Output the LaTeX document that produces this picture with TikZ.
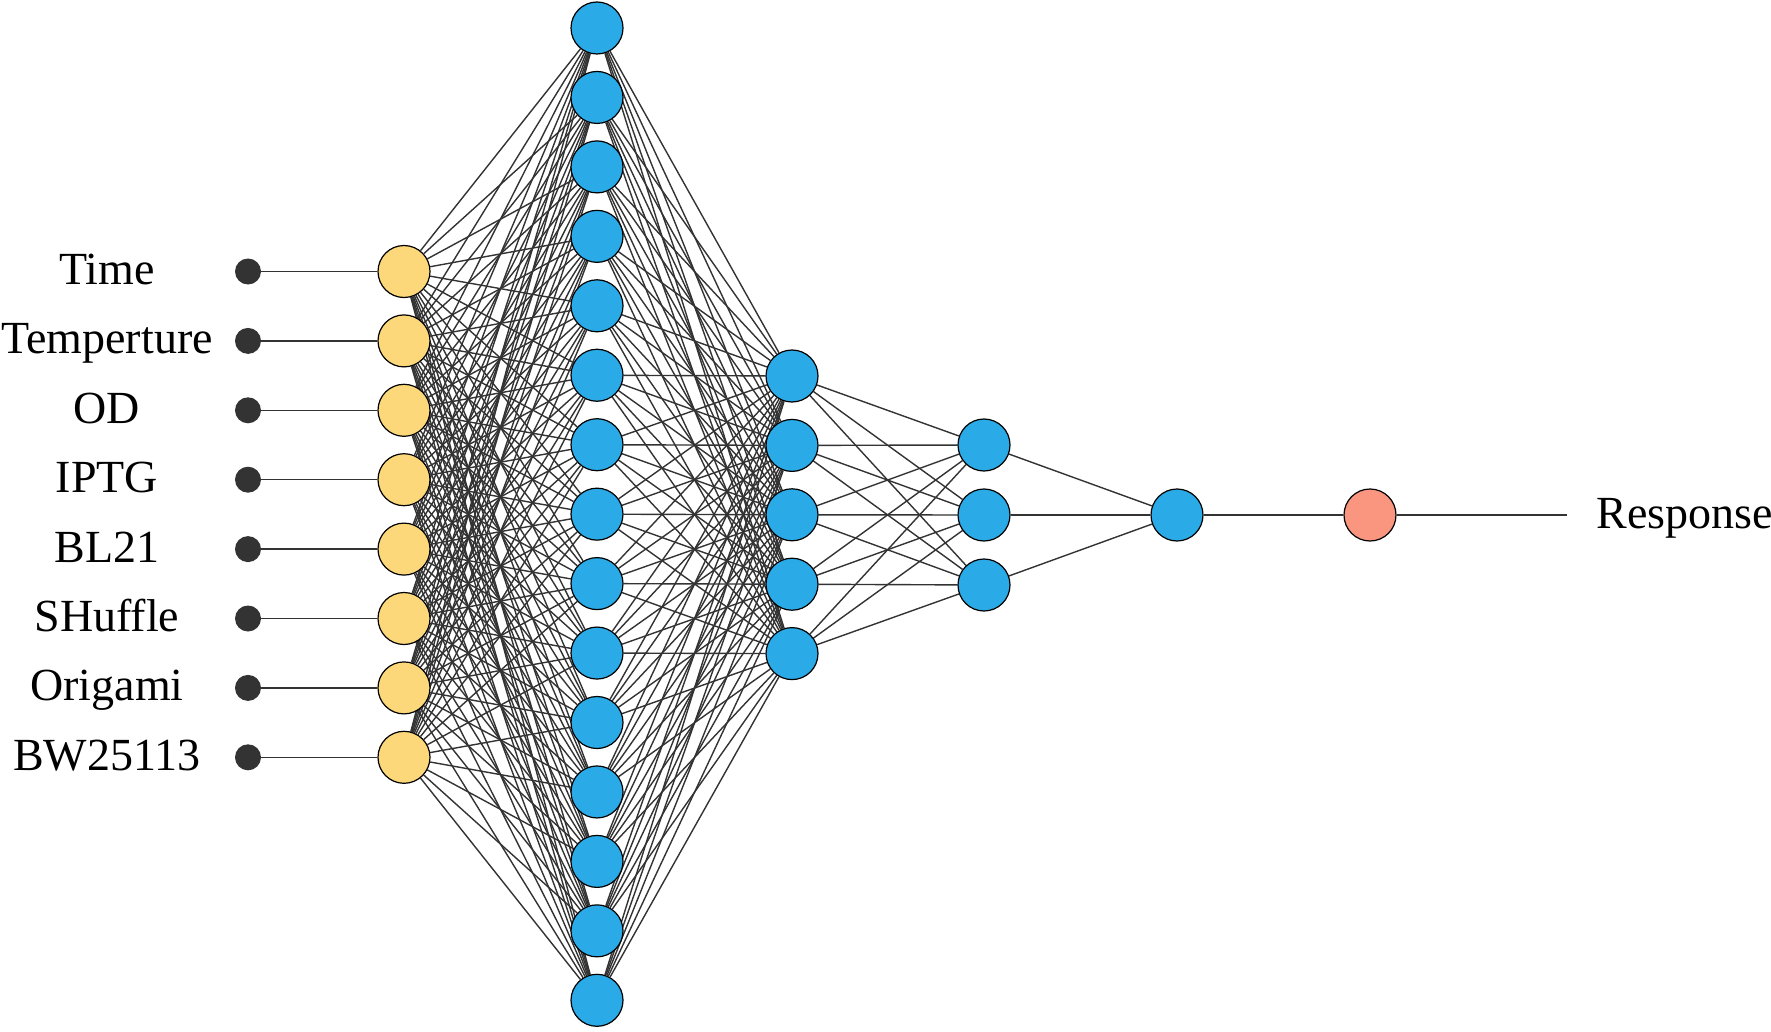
\documentclass[tikz,border=0pt]{standalone}
\usepackage{fontspec}
\setmainfont{Liberation Serif}
\usetikzlibrary{backgrounds}
\definecolor{inyel}{RGB}{252,216,122}
\definecolor{hidblue}{RGB}{42,170,230}
\definecolor{outred}{RGB}{250,150,128}
\definecolor{dotgray}{RGB}{51,51,51}
\begin{document}
\begin{tikzpicture}[x=0.5pt,y=-0.5pt,
  neuron/.style={circle,draw=black,line width=0.6pt,minimum size=26pt,inner sep=0pt},
  yel/.style={neuron,fill=inyel},
  blu/.style={neuron,fill=hidblue},
  red/.style={neuron,fill=outred},
  indot/.style={circle,fill=dotgray,minimum size=13pt,inner sep=0pt},
  lbl/.style={font=\fontsize{23pt}{27pt}\selectfont,inner sep=0pt},
  conn/.style={draw=dotgray,line width=0.7pt}]
\useasboundingbox (0,0) rectangle (1771,1032);
% input layer
\foreach \t [count=\i from 0] in {Time,Temperture,OD,IPTG,BL21,SHuffle,Origami,BW25113}{
  \pgfmathsetmacro{\yy}{271.5+69.4*\i}
  \node[indot] (d\i) at (248,\yy) {};
  \node[yel] (a\i) at (404,\yy) {};
  \node[lbl,anchor=base] (t\i) at (107,\yy+13) {\t};
}
% hidden layer 1
\foreach \i in {0,...,14}{
  \pgfmathsetmacro{\yy}{28+69.45*\i}
  \node[blu] (b\i) at (597,\yy) {};
}
% hidden layer 2
\foreach \i in {0,...,4}{
  \pgfmathsetmacro{\yy}{376+69.4*\i}
  \node[blu] (c\i) at (792,\yy) {};
}
% hidden layer 3
\foreach \i in {0,...,2}{
  \pgfmathsetmacro{\yy}{445+70*\i}
  \node[blu] (e\i) at (984,\yy) {};
}
\node[blu] (f) at (1177,515) {};
\node[red] (o) at (1370,515) {};
\coordinate (oend) at (1567,515);
\node[lbl,anchor=base west] (resp) at (1596,528) {Response};
\begin{pgfonlayer}{background}
\foreach \i in {0,...,7}{
  \draw[conn] (d\i) -- (a\i);
  \foreach \j in {0,...,14}{ \draw[conn] (a\i) -- (b\j); }
}
\foreach \j in {0,...,14}{
  \foreach \k in {0,...,4}{ \draw[conn] (b\j) -- (c\k); }
}
\foreach \k in {0,...,4}{
  \foreach \m in {0,...,2}{ \draw[conn] (c\k) -- (e\m); }
}
\foreach \m in {0,...,2}{ \draw[conn] (e\m) -- (f); }
\draw[conn] (f) -- (o);
\draw[conn] (o) -- (oend);
\end{pgfonlayer}
\end{tikzpicture}
\end{document}
